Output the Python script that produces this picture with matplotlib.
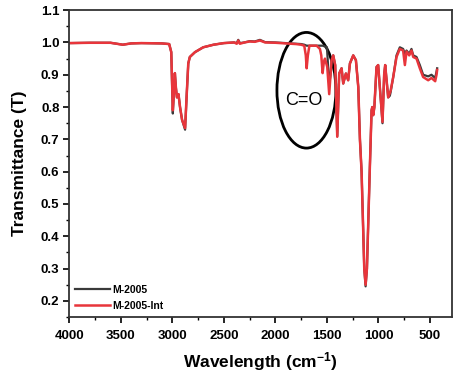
import matplotlib
matplotlib.use('Agg')
import matplotlib.pyplot as plt
from matplotlib import ticker
from matplotlib.patches import Ellipse

plt.rcParams['font.family'] = ['Liberation Sans', 'DejaVu Sans']
plt.rcParams['font.weight'] = 'bold'
plt.rcParams['mathtext.fontset'] = 'custom'
plt.rcParams['mathtext.rm'] = 'Liberation Sans:bold'
plt.rcParams['mathtext.it'] = 'Liberation Sans:bold'
plt.rcParams['mathtext.bf'] = 'Liberation Sans:bold'

# FTIR spectrum, M-2005-Int (red)
wn_int = [4000, 3800, 3600, 3480, 3400, 3300, 3100, 3030, 3010, 2995, 2985,
          2975, 2965, 2955, 2940, 2925, 2905, 2876, 2860, 2845, 2830, 2780,
          2700, 2600, 2500, 2400, 2375, 2360, 2345, 2300, 2250, 2200, 2150,
          2100, 2000, 1900, 1800, 1750, 1720, 1705, 1697, 1685, 1670, 1600,
          1568, 1555, 1542, 1530, 1519, 1497, 1478, 1465, 1455, 1439, 1420,
          1400, 1381, 1358, 1342, 1316, 1294, 1277, 1245, 1219, 1196, 1180,
          1164, 1138, 1125, 1112, 1085, 1067, 1060, 1051, 1040, 1019, 1003,
          987, 961, 945, 935, 906, 883, 857, 825, 793, 761, 744, 728, 702,
          680, 663, 631, 599, 567, 518, 486, 450, 437, 431]
t_int = [0.998, 0.999, 0.999, 0.993, 0.997, 0.998, 0.997, 0.995, 0.97, 0.79,
         0.84, 0.905, 0.86, 0.83, 0.84, 0.80, 0.76, 0.735, 0.84, 0.935, 0.955,
         0.97, 0.985, 0.993, 0.998, 1.0, 0.996, 1.006, 0.996, 1.0, 1.003,
         1.002, 1.006, 1.0, 0.999, 0.997, 0.995, 0.993, 0.99, 0.96, 0.92,
         0.96, 0.99, 0.99, 0.98, 0.96, 0.905, 0.94, 0.95, 0.924, 0.84, 0.90,
         0.945, 0.96, 0.93, 0.708, 0.904, 0.92, 0.873, 0.904, 0.883, 0.935,
         0.96, 0.945, 0.862, 0.70, 0.60, 0.30, 0.25, 0.30, 0.60, 0.79, 0.80,
         0.775, 0.80, 0.924, 0.93, 0.862, 0.754, 0.90, 0.93, 0.83, 0.85,
         0.893, 0.955, 0.98, 0.975, 0.93, 0.972, 0.96, 0.975, 0.955, 0.95,
         0.92, 0.893, 0.883, 0.89, 0.88, 0.90, 0.915]

# FTIR spectrum, M-2005 (black)
wn_ref = [4000, 3800, 3600, 3480, 3400, 3300, 3100, 3030, 3010, 2995, 2985,
          2975, 2965, 2955, 2940, 2925, 2905, 2876, 2860, 2845, 2830, 2780,
          2700, 2600, 2500, 2400, 2375, 2360, 2345, 2300, 2250, 2200, 2150,
          2100, 2000, 1900, 1800, 1750, 1720, 1697, 1670, 1600, 1540, 1500,
          1478, 1465, 1455, 1439, 1420, 1400, 1381, 1358, 1342, 1316, 1294,
          1277, 1245, 1219, 1196, 1180, 1164, 1138, 1125, 1112, 1085, 1067,
          1060, 1051, 1040, 1019, 1003, 987, 961, 945, 935, 906, 890, 883,
          857, 825, 793, 761, 744, 728, 702, 680, 663, 631, 599, 567, 518,
          486, 450, 437, 431]
t_ref = [0.998, 0.999, 0.999, 0.993, 0.997, 0.998, 0.997, 0.995, 0.97, 0.78,
         0.84, 0.905, 0.86, 0.83, 0.84, 0.80, 0.76, 0.73, 0.84, 0.935, 0.955,
         0.97, 0.985, 0.993, 0.998, 1.0, 0.998, 1.008, 0.998, 1.0, 1.004,
         1.003, 1.008, 1.001, 1.0, 0.998, 0.996, 0.995, 0.993, 0.99, 0.99,
         0.99, 0.99, 0.985, 0.87, 0.90, 0.945, 0.96, 0.93, 0.71, 0.904, 0.92,
         0.873, 0.904, 0.883, 0.935, 0.96, 0.945, 0.862, 0.70, 0.60, 0.30,
         0.245, 0.30, 0.60, 0.79, 0.80, 0.775, 0.80, 0.924, 0.93, 0.862,
         0.75, 0.90, 0.93, 0.83, 0.835, 0.845, 0.893, 0.96, 0.985, 0.98,
         0.965, 0.975, 0.965, 0.98, 0.96, 0.955, 0.93, 0.90, 0.895, 0.90,
         0.89, 0.91, 0.92]

fig = plt.figure(figsize=(4.74, 3.9), dpi=100)
ax = fig.add_axes([0.146, 0.187, 0.808, 0.787])

ax.plot(wn_ref, t_ref, color='#3a3a3a', lw=1.6, label='M-2005')
ax.plot(wn_int, t_int, color='#e8353b', lw=1.8, label='M-2005-Int')

ax.set_xlim(4000, 285)
ax.set_ylim(0.15, 1.1)
ax.xaxis.set_major_locator(ticker.MultipleLocator(500))
ax.xaxis.set_minor_locator(ticker.MultipleLocator(250))
ax.yaxis.set_major_locator(ticker.MultipleLocator(0.1))
ax.yaxis.set_minor_locator(ticker.MultipleLocator(0.05))
ax.yaxis.set_major_formatter(ticker.FormatStrFormatter('%.1f'))
ax.tick_params(which='major', length=4, width=1.2, labelsize=9.5, pad=3)
ax.tick_params(which='minor', length=2.5, width=1.0)
ax.tick_params(axis='x', pad=5)
for sp in ax.spines.values():
    sp.set_linewidth(1.3)
    sp.set_color('#333333')

ax.set_xlabel('Wavelength (cm$^{-1}$)', fontsize=12.5, fontweight='bold', labelpad=6)
ax.set_ylabel('Transmittance (T)', fontsize=12.5, fontweight='bold', labelpad=10)

# carbonyl band marker
ax.add_patch(Ellipse((1699, 0.852), 572, 0.358, fill=False, ec='black', lw=2.0))
ax.text(1722, 0.82, 'C=O', fontsize=13, fontweight='normal', ha='center', va='center')

ax.legend(loc='lower left', bbox_to_anchor=(0.014, 0.02), frameon=False,
          fontsize=7.5, handlelength=3.4, handletextpad=0.2, labelspacing=0.6,
          borderpad=0, borderaxespad=0)

plt.savefig('out.png', dpi=100)
